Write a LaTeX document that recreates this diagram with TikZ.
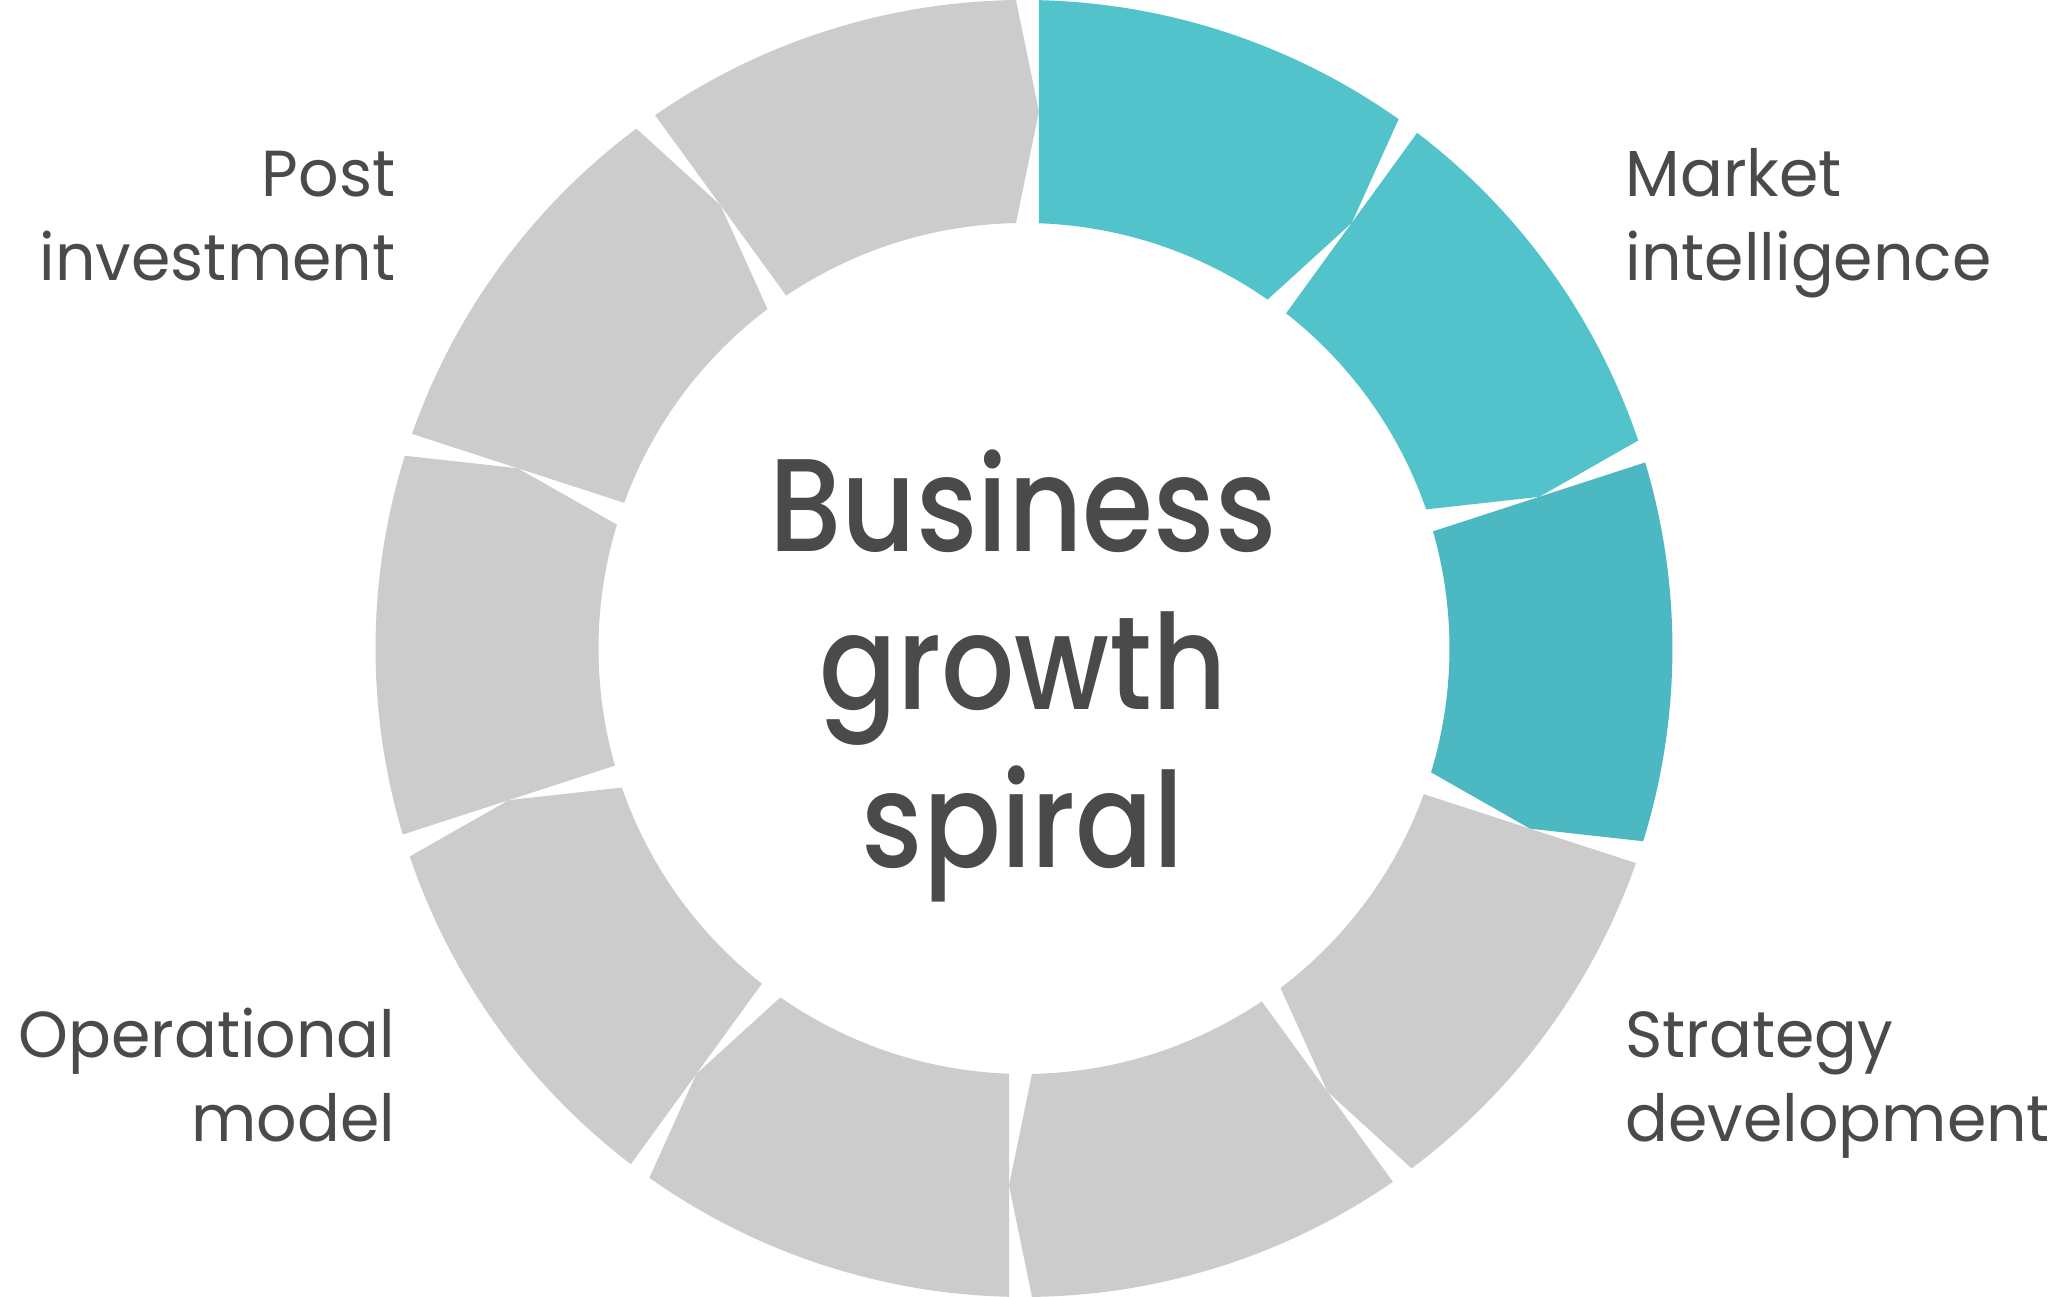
\documentclass[tikz,border=0pt]{standalone}
\usepackage{fontspec}
\setmainfont{Poppins}[FakeStretch=0.975]
\newfontfamily\titlefont{Poppins Medium}[FakeStretch=0.87]
\definecolor{tealring}{HTML}{52C3CA}
\definecolor{tealdark}{HTML}{4CB8C2}
\definecolor{greyring}{HTML}{CCCCCC}
\definecolor{inkgrey}{HTML}{4A4A4A}
\tikzset{
  steplabel/.style={text=inkgrey, font=\fontsize{18.5}{24}\selectfont, inner sep=0pt},
  spiraltitle/.style={text=inkgrey, font=\titlefont\fontsize{37.6}{45}\selectfont, inner sep=0pt, align=center}
}
\begin{document}
\begin{tikzpicture}
\useasboundingbox (-10.24,-6.485) rectangle (10.24,6.485);
\def\Ro{6.485}
\def\Ri{4.255}
% ring of ten parts, each one turned 36 degrees from the last
\foreach \j/\col in {0/tealring,1/tealring,2/tealdark,3/greyring,4/greyring,5/greyring,6/greyring,7/greyring,8/greyring,9/greyring}{
  \pgfmathsetmacro{\a}{90-36*\j}
  \pgfmathsetmacro{\b}{\a-36}
  \fill[\col] ({\a-1.325}:\Ro) arc[start angle=\a-1.325, end angle=\b+0.707, radius=\Ro]
    -- ({\b-1.6}:5.372) -- ({\b+1.077}:\Ri)
    arc[start angle=\b+1.077, end angle=\a-2.02, radius=\Ri] -- cycle;
}
\node[spiraltitle] (title) at (-0.01,-0.275) {Business\\growth\\spiral};
% base anchor sits on the last line of each label
\node[steplabel, align=right, anchor=base east] (post) at (-6.28,3.675) {Post\\investment};
\node[steplabel, align=left, anchor=base west] (market) at (6.01,3.675) {Market\\intelligence};
\node[steplabel, align=right, anchor=base east] (operational) at (-6.28,-4.935) {Operational\\model};
\node[steplabel, align=left, anchor=base west] (strategy) at (6.01,-4.935) {Strategy\\development};
\end{tikzpicture}
\end{document}
